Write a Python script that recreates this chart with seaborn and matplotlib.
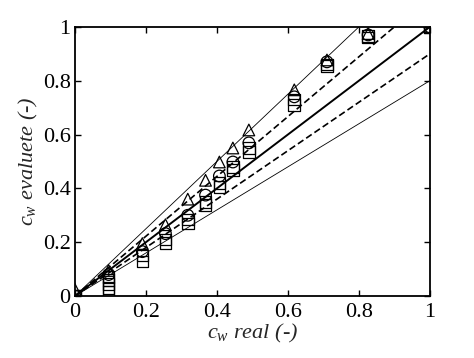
#
# Recreated chart: c_w evaluete vs c_w real
import numpy as np
import pandas as pd
import seaborn as sns
import matplotlib.pyplot as plt
from matplotlib.ticker import FuncFormatter
#
#------------------------------------------------------------------------#
# Data
xReal = [0, 0.095, 0.19, 0.255, 0.318, 0.368, 0.407, 0.445, 0.49, 0.618, 0.71, 0.826, 1.0]
yTriangle = [0.025, 0.095, 0.195, 0.265, 0.36, 0.43, 0.498, 0.55, 0.617, 0.766, 0.877, 0.975, 1.0]
yCircle = [0.0, 0.08, 0.165, 0.232, 0.30, 0.375, 0.446, 0.498, 0.569, 0.74, 0.87, 0.97, 1.0]
ySquare1 = [0.0, 0.06, 0.15, 0.21, 0.285, 0.35, 0.42, 0.48, 0.55, 0.73, 0.86, 0.965, 1.0]
ySquare2 = [0.0, 0.03, 0.128, 0.197, 0.27, 0.338, 0.405, 0.468, 0.535, 0.71, 0.855, 0.96, 1.0]
# extra squares stacked at x ~ 0.1
xExtra = [0.095, 0.095, 0.095]
yExtra = [0.045, 0.015, 0.07]
#
# reference lines: slope of each line through origin
lineSlopes = [1 / 0.8, 1 / 0.9, 1.0, 0.9, 0.8]
lineStyles = ["-", "--", "-", "--", "-"]
lineWidths = [0.6, 1.2, 1.4, 1.2, 0.6]
#
#------------------------------------------------------------------------#
sns.set_style("ticks")
plt.rcParams["font.family"] = ["Liberation Serif", "DejaVu Serif"]
plt.rcParams["mathtext.fontset"] = "custom"
plt.rcParams["mathtext.it"] = "Liberation Serif:italic"
plt.rcParams["mathtext.rm"] = "Liberation Serif"
#
fig = plt.figure(figsize=(4.74, 3.58), dpi=100)
ax = fig.add_axes([0.158, 0.173, 0.749, 0.752])
#
for slope, ls, lw in zip(lineSlopes, lineStyles, lineWidths):
    sns.lineplot(x=[0, 1], y=[0, slope], ax=ax, color="black", linewidth=lw)
    if ls == "--":
        ax.lines[-1].set_dashes([4, 2])
#
mk = dict(s=70, facecolors="none", edgecolor="black", linewidth=0.9, ax=ax, zorder=3)
sns.scatterplot(x=xReal, y=ySquare2, marker="s", **mk)
sns.scatterplot(x=xReal, y=ySquare1, marker="s", **mk)
sns.scatterplot(x=xExtra, y=yExtra, marker="s", **mk)
sns.scatterplot(x=xReal, y=yCircle, marker="o", **mk)
sns.scatterplot(x=xReal, y=yTriangle, marker="^", **mk)
#
ax.set_xlim(0, 1)
ax.set_ylim(0, 1)
ticks = [0, 0.2, 0.4, 0.6, 0.8, 1]
ax.set_xticks(ticks)
ax.set_yticks(ticks)
fmt = FuncFormatter(lambda v, p: "%g" % v)
ax.xaxis.set_major_formatter(fmt)
ax.yaxis.set_major_formatter(fmt)
ax.tick_params(direction="in", top=True, right=True, length=4, width=1,
               labelsize=16, colors="black")
ax.tick_params(axis="x", pad=5)
ax.tick_params(axis="y", pad=3)
for s in ax.spines.values():
    s.set_visible(True)
    s.set_linewidth(1.3)
    s.set_color("black")
#
ax.set_xlabel(r"$c_w$ real (-)", fontsize=16, fontstyle="italic", labelpad=0)
ax.set_ylabel(r"$c_w$ evaluete (-)", fontsize=16, fontstyle="italic", labelpad=2)
#
fig.savefig("out.png", dpi=100)
